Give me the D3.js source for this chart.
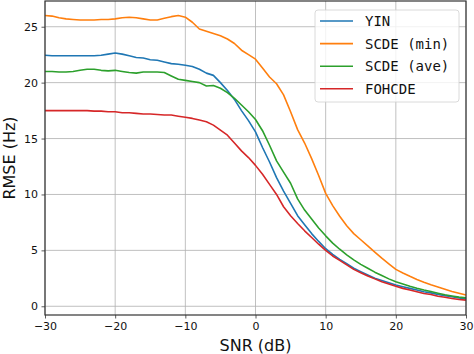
<!DOCTYPE html>
<html>
<head>
<meta charset="utf-8">
<script src="https://cdn.jsdelivr.net/npm/d3@7"></script>
<style>
  html, body { margin: 0; padding: 0; background: #fff; }
  svg { display: block; font-family: "DejaVu Sans", sans-serif; }
</style>
</head>
<body>
<svg id="chart" width="474" height="354"></svg>
<script>
// SNR values in dB, one point per dB
const snr = d3.range(-30, 31);

const yin = [22.45, 22.4, 22.4, 22.4, 22.4, 22.4, 22.4, 22.4, 22.45, 22.55,
  22.65, 22.55, 22.4, 22.25, 22.2, 22.05, 22.0, 21.85, 21.7, 21.65,
  21.55, 21.45, 21.2, 20.85, 20.65, 20.0, 19.3, 18.5, 17.5, 16.6,
  15.6, 14.2, 12.9, 11.5, 10.3, 9.2, 8.1, 7.3, 6.5, 5.8,
  5.15, 4.65, 4.2, 3.8, 3.4, 3.1, 2.8, 2.5, 2.3, 2.1,
  1.9, 1.75, 1.6, 1.45, 1.3, 1.2, 1.05, 0.95, 0.85, 0.75, 0.65];

const scdeMin = [26.0, 25.95, 25.8, 25.7, 25.65, 25.6, 25.6, 25.6, 25.65, 25.65,
  25.7, 25.8, 25.85, 25.8, 25.7, 25.6, 25.6, 25.75, 25.9, 26.0,
  25.85, 25.4, 24.8, 24.6, 24.4, 24.2, 23.9, 23.5, 22.9, 22.5,
  22.1, 21.3, 20.5, 19.9, 18.9, 17.4, 15.8, 14.6, 13.2, 11.7,
  10.1, 9.0, 8.05, 7.2, 6.5, 5.95, 5.4, 4.85, 4.3, 3.8,
  3.3, 2.98, 2.68, 2.4, 2.15, 1.92, 1.72, 1.52, 1.33, 1.16, 1.0];

const scdeAve = [21.0, 21.0, 20.95, 20.95, 21.0, 21.1, 21.2, 21.2, 21.1, 21.05,
  21.1, 21.0, 20.9, 20.85, 20.95, 20.95, 20.95, 20.9, 20.6, 20.3,
  20.2, 20.1, 20.0, 19.7, 19.75, 19.5, 19.1, 18.6, 18.0, 17.4,
  16.7, 15.7, 14.4, 13.0, 12.0, 11.0, 9.6, 8.6, 7.8, 7.0,
  6.3, 5.65, 5.1, 4.6, 4.15, 3.75, 3.4, 3.05, 2.75, 2.45,
  2.2, 2.0, 1.8, 1.62, 1.46, 1.32, 1.17, 1.03, 0.92, 0.82, 0.75];

const fohcde = [17.5, 17.5, 17.5, 17.5, 17.5, 17.5, 17.5, 17.45, 17.45, 17.4,
  17.4, 17.3, 17.3, 17.25, 17.2, 17.2, 17.15, 17.1, 17.1, 17.0,
  16.9, 16.8, 16.65, 16.5, 16.2, 15.75, 15.3, 14.6, 13.9, 13.3,
  12.6, 11.8, 10.9, 10.0, 8.9, 8.1, 7.4, 6.75, 6.15, 5.55,
  5.0, 4.5, 4.1, 3.7, 3.3, 3.0, 2.7, 2.45, 2.2, 2.0,
  1.8, 1.6, 1.45, 1.3, 1.15, 1.05, 0.9, 0.8, 0.7, 0.6, 0.55];

const seriesNames = ["YIN", "SCDE (min)", "SCDE (ave)", "FOHCDE"];
const seriesColors = ["#1f77b4", "#ff7f0e", "#2ca02c", "#d62728"];
const seriesValues = [yin, scdeMin, scdeAve, fohcde];

const xTicks = [-30, -20, -10, 0, 10, 20, 30];
const yTicks = [0, 5, 10, 15, 20, 25];

const svg = d3.select("#chart");
const margin = { left: 45, right: 8, top: 1, bottom: 39 };
const width = +svg.attr("width");
const height = +svg.attr("height");

const x = d3.scaleLinear()
  .domain([-30, 30])
  .range([margin.left, width - margin.right]);

const y = d3.scaleLinear()
  .domain([-0.78, 27.3])
  .range([height - margin.bottom, margin.top]);

// Grid
const grid = svg.append("g").attr("class", "grid");
grid.selectAll("line.vx")
  .data(xTicks)
  .enter().append("line")
  .attr("x1", d => x(d)).attr("x2", d => x(d))
  .attr("y1", y.range()[0]).attr("y2", y.range()[1])
  .attr("stroke", "#b0b0b0").attr("stroke-width", 0.8);
grid.selectAll("line.hy")
  .data(yTicks)
  .enter().append("line")
  .attr("x1", x.range()[0]).attr("x2", x.range()[1])
  .attr("y1", d => y(d)).attr("y2", d => y(d))
  .attr("stroke", "#b0b0b0").attr("stroke-width", 0.8);

// Lines
const line = d3.line()
  .x((d, i) => x(snr[i]))
  .y(d => y(d));

svg.append("g").attr("class", "lines")
  .selectAll("path")
  .data(seriesValues)
  .enter().append("path")
  .attr("d", d => line(d))
  .attr("fill", "none")
  .attr("stroke", (d, i) => seriesColors[i])
  .attr("stroke-width", 1.6)
  .attr("stroke-linejoin", "round");

// Axes
const tickFmt = d => d < 0 ? "\u2212" + Math.abs(d) : d;

const xAxis = svg.append("g")
  .attr("transform", `translate(0,${y.range()[0]})`)
  .call(d3.axisBottom(x).tickValues(xTicks).tickFormat(tickFmt).tickSize(3.5).tickPadding(3.5));

const yAxis = svg.append("g")
  .attr("transform", `translate(${x.range()[0]},0)`)
  .call(d3.axisLeft(y).tickValues(yTicks).tickFormat(tickFmt).tickSize(3.5).tickPadding(3.5));

[xAxis, yAxis].forEach(a => {
  a.select(".domain").remove();
  a.selectAll("line").attr("stroke", "#333").attr("stroke-width", 0.8);
  a.selectAll("text")
    .attr("fill", "#111")
    .style("font-size", "11px")
    .style("font-family", "DejaVu Sans, sans-serif");
});

// Frame (spines)
svg.append("rect")
  .attr("x", x.range()[0])
  .attr("y", y.range()[1])
  .attr("width", x.range()[1] - x.range()[0])
  .attr("height", y.range()[0] - y.range()[1])
  .attr("fill", "none")
  .attr("stroke", "#333")
  .attr("stroke-width", 1.2);

// Axis labels
svg.append("text")
  .attr("x", (x.range()[0] + x.range()[1]) / 2)
  .attr("y", 351)
  .attr("text-anchor", "middle")
  .style("font-size", "16px")
  .attr("fill", "#111")
  .text("SNR (dB)");

svg.append("text")
  .attr("transform", `translate(15,${(y.range()[0] + y.range()[1]) / 2}) rotate(-90)`)
  .attr("text-anchor", "middle")
  .style("font-size", "16px")
  .attr("fill", "#111")
  .text("RMSE (Hz)");

// Legend
const legend = svg.append("g")
  .attr("class", "legend")
  .attr("transform", "translate(315,10)");

legend.append("rect")
  .attr("width", 144)
  .attr("height", 92)
  .attr("rx", 3)
  .attr("fill", "#fff")
  .attr("fill-opacity", 0.8)
  .attr("stroke", "#d0d0d0")
  .attr("stroke-width", 0.8);

const items = legend.selectAll(".legend-item")
  .data(seriesNames)
  .enter().append("g")
  .attr("class", "legend-item")
  .attr("transform", (d, i) => `translate(0, ${11 + i * 22.6})`);

items.append("line")
  .attr("x1", 5).attr("x2", 38)
  .attr("stroke", (d, i) => seriesColors[i])
  .attr("stroke-width", 1.6);

items.append("text")
  .attr("x", 50)
  .attr("y", 5)
  .style("font-size", "14px")
  .style("font-family", "DejaVu Sans Mono, monospace")
  .attr("fill", "#111")
  .text(d => d);
</script>
</body>
</html>
